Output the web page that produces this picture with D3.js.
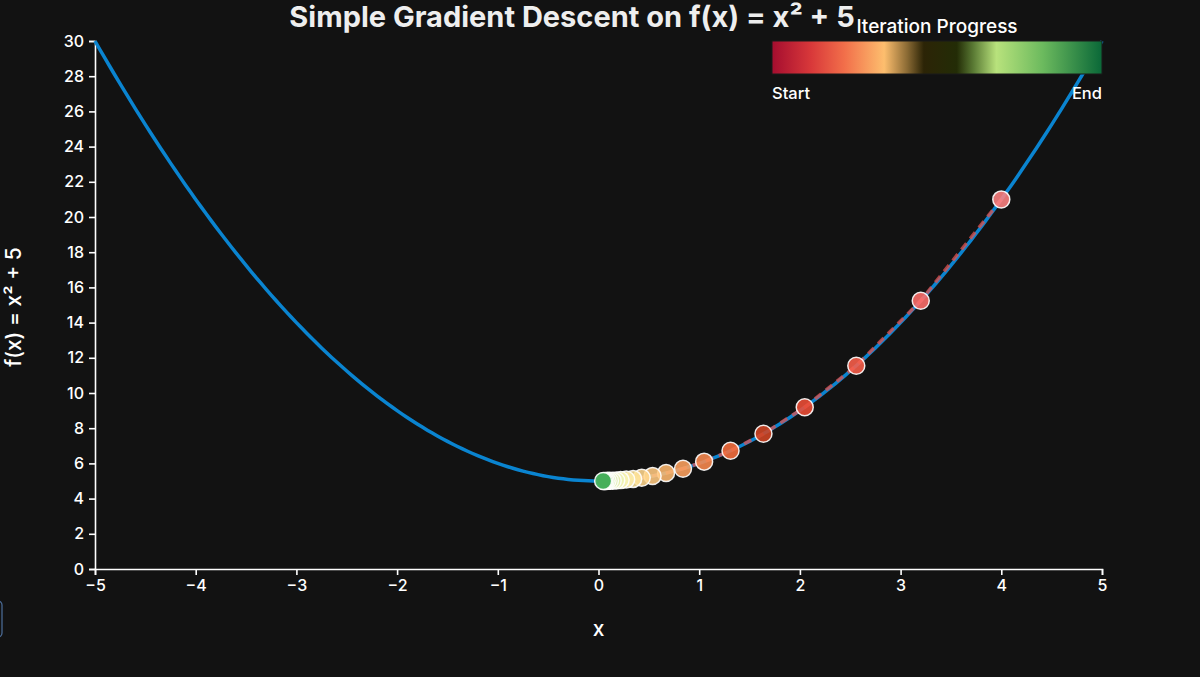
<!DOCTYPE html>
<html>
<head>
<meta charset="utf-8">
<script src="https://cdn.jsdelivr.net/npm/d3@7"></script>
<style>
  html, body { margin: 0; padding: 0; background: #121212; }
  svg { display: block; }
  text { font-family: Inter, "Noto Sans", sans-serif; }
</style>
</head>
<body>
<svg id="chart" width="1200" height="677"></svg>
<script>
// ---- data ----
const xDomain = [-5, 5];
const yDomain = [0, 30];
const xTicks = [-5, -4, -3, -2, -1, 0, 1, 2, 3, 4, 5];
const yTicks = [0, 2, 4, 6, 8, 10, 12, 14, 16, 18, 20, 22, 24, 26, 28, 30];
// gradient descent iterates
const iterX = [4.0, 3.2, 2.56, 2.048, 1.638, 1.311, 1.049, 0.839, 0.671, 0.537,
               0.429, 0.344, 0.275, 0.22, 0.176, 0.141, 0.113, 0.09, 0.072, 0.058, 0.046];
const iterY = [21.0, 15.24, 11.55, 9.19, 7.68, 6.72, 6.10, 5.70, 5.45, 5.29,
               5.18, 5.12, 5.08, 5.05, 5.03, 5.02, 5.01, 5.008, 5.005, 5.003, 5.002];
const iterColors = ["#ff8282", "#ff6e6a", "#fb5e4a", "#ee4d36", "#d24524", "#f76e3e",
                    "#fb8a4e", "#fea25e", "#feb86e", "#ffc880", "#ffd68c", "#fee49a",
                    "#fcecaa", "#f6f2b0", "#eef2b4", "#e4eeb0", "#daeaaa", "#d0e6a4",
                    "#c6e29e", "#b8dc96", "#36a852"];
const legendStops = [
  [0.00, "#a50d2f"], [0.12, "#d9393a"], [0.22, "#f26f4a"], [0.34, "#fdbe6e"],
  [0.41, "#8a6a34"], [0.46, "#2c2406"], [0.56, "#232c06"], [0.61, "#5a7a34"],
  [0.68, "#b8e27c"], [0.82, "#6cba5e"], [1.00, "#0a6838"]
];
const curveX = d3.range(-5, 5.0001, 0.05); // sampling of the drawn function
const f = x => x * x + 5;

// ---- layout ----
const svg = d3.select("#chart");
const M = { left: 95, right: 98, top: 41, bottom: 108 };
const W = 1200, H = 677;
const x = d3.scaleLinear().domain(xDomain).range([M.left, W - M.right]);
const y = d3.scaleLinear().domain(yDomain).range([H - M.bottom, M.top]);

svg.append("rect").attr("width", W).attr("height", H).attr("fill", "#121212");

// small UI artifact at left edge
svg.append("rect").attr("x", -8).attr("y", 601).attr("width", 10).attr("height", 36)
  .attr("rx", 4).attr("fill", "none").attr("stroke", "#4d6f9c").attr("stroke-width", 1.2);

// axes
const xAxis = svg.append("g").attr("transform", `translate(0,${y(0)})`)
  .call(d3.axisBottom(x).tickValues(xTicks).tickSize(6).tickPadding(5));
const yAxis = svg.append("g").attr("transform", `translate(${x(-5)},0)`)
  .call(d3.axisLeft(y).tickValues(yTicks).tickSize(6).tickPadding(5));
[xAxis, yAxis].forEach(g => {
  g.selectAll("path, line").attr("stroke", "#ffffff").attr("stroke-width", 1.6);
  g.selectAll("text").attr("fill", "#ffffff").style("font-size", "16px")
    .style("font-weight", "500")
    .style("font-family", "Inter, sans-serif");
});

// curve
svg.append("path")
  .datum(curveX)
  .attr("fill", "none")
  .attr("stroke", "#0a84d0")
  .attr("stroke-width", 3.5)
  .attr("d", d3.line().x(d => x(d)).y(d => y(f(d))));

// descent path
const pts = iterX.map((v, i) => ({ x: v, y: iterY[i], c: iterColors[i] }));
svg.append("path")
  .datum(pts)
  .attr("fill", "none")
  .attr("stroke", "#e0524e")
  .attr("stroke-opacity", 0.75)
  .attr("stroke-width", 3.5)
  .attr("stroke-dasharray", "8,6")
  .attr("d", d3.line().x(d => x(d.x)).y(d => y(d.y)));

// points
svg.append("g").selectAll("circle")
  .data(pts)
  .join("circle")
  .attr("cx", d => x(d.x))
  .attr("cy", d => y(d.y))
  .attr("r", 8.5)
  .attr("fill", d => d.c)
  .attr("fill-opacity", 0.88)
  .attr("stroke", "#ffffff")
  .attr("stroke-opacity", 0.9)
  .attr("stroke-width", 1.5);

// title
svg.append("text")
  .attr("x", 572).attr("y", 27)
  .attr("text-anchor", "middle")
  .attr("fill", "#eeeeee")
  .style("font-size", "29px").style("font-weight", "700")
  .text("Simple Gradient Descent on f(x) = x² + 5");

// axis labels
svg.append("text")
  .attr("x", x(0)).attr("y", 636)
  .attr("text-anchor", "middle").attr("fill", "#ffffff")
  .style("font-size", "21px").style("font-weight", "500")
  .text("x");
svg.append("text")
  .attr("transform", `translate(21,${(y(0) + y(30)) / 2 + 2}) rotate(-90)`)
  .attr("text-anchor", "middle").attr("fill", "#ffffff")
  .style("font-size", "21px").style("font-weight", "500")
  .text("f(x) = x² + 5");

// legend
const defs = svg.append("defs");
const grad = defs.append("linearGradient").attr("id", "prog")
  .attr("x1", "0%").attr("x2", "100%").attr("y1", "0%").attr("y2", "0%");
grad.selectAll("stop").data(legendStops).join("stop")
  .attr("offset", d => d[0]).attr("stop-color", d => d[1]);

const lg = svg.append("g").attr("transform", "translate(772,41)");
lg.append("rect").attr("width", 330).attr("height", 33)
  .attr("fill", "url(#prog)").attr("stroke", "#1a1a1a").attr("stroke-width", 1);
lg.append("text").attr("x", 165).attr("y", -8).attr("text-anchor", "middle")
  .attr("fill", "#ffffff").style("font-size", "19px").style("font-weight", "500")
  .text("Iteration Progress");
lg.append("text").attr("x", 0).attr("y", 58).attr("fill", "#ffffff")
  .style("font-size", "16.5px").style("font-weight", "500").text("Start");
lg.append("text").attr("x", 330).attr("y", 58).attr("text-anchor", "end")
  .attr("fill", "#ffffff").style("font-size", "16.5px").style("font-weight", "500").text("End");
</script>
</body>
</html>
